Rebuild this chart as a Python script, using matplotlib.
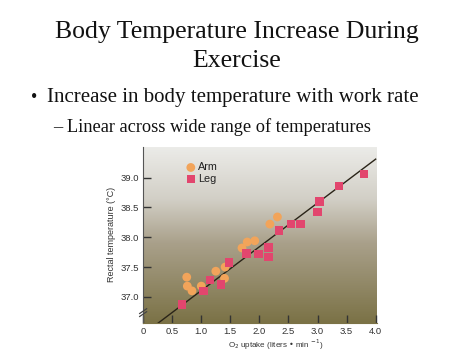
import numpy as np
import matplotlib.pyplot as plt
from matplotlib.colors import LinearSegmentedColormap

# O2 uptake (L/min) vs rectal temperature (C)
arm_x = [0.75, 0.76, 0.84, 1.00, 1.25, 1.41, 1.40, 1.70, 1.79, 1.92, 2.18, 2.31]
arm_y = [37.33, 37.18, 37.10, 37.18, 37.43, 37.50, 37.31, 37.82, 37.92, 37.94, 38.22, 38.34]
leg_x = [0.67, 1.04, 1.15, 1.34, 1.48, 1.78, 1.98, 2.16, 2.16, 2.34, 2.54, 2.71, 3.00, 3.03, 3.37, 3.80]
leg_y = [36.87, 37.10, 37.28, 37.21, 37.58, 37.73, 37.72, 37.83, 37.67, 38.11, 38.22, 38.22, 38.42, 38.60, 38.86, 39.06]
fit_slope = 0.735
fit_intercept = 36.37
fit_range = [0.23, 4.0]
x_ticks = [0, 0.5, 1.0, 1.5, 2.0, 2.5, 3.0, 3.5, 4.0]
x_ticklabels = ['0', '0.5', '1.0', '1.5', '2.0', '2.5', '3.0', '3.5', '4.0']
y_ticks = [37.0, 37.5, 38.0, 38.5, 39.0]

arm_color = '#f2a45a'
leg_color = '#e2466e'

fig = plt.figure(figsize=(4.74, 3.55), dpi=100)
fig.patch.set_facecolor('white')

serif = ['Liberation Serif', 'DejaVu Serif']
sans = ['Liberation Sans', 'DejaVu Sans']
fig.text(0.5, 0.910, 'Body Temperature Increase During', ha='center', va='center',
         fontsize=18.5, family=serif, color='#111111')
fig.text(0.5, 0.828, 'Exercise', ha='center', va='center',
         fontsize=18.5, family=serif, color='#111111')
fig.text(0.066, 0.724, '\u2022', ha='left', va='center', fontsize=13, family=serif, color='#111111')
fig.text(0.099, 0.724, 'Increase in body temperature with work rate', ha='left', va='center',
         fontsize=15, family=serif, color='#111111')
fig.text(0.112, 0.642, '\u2013 Linear across wide range of temperatures', ha='left', va='center',
         fontsize=13.2, family=serif, color='#111111')

ax = fig.add_axes([0.302, 0.090, 0.493, 0.497])
xlim = (0, 4.02)
ylim = (36.56, 39.52)

# gradient background, light at top and olive at the bottom
cmap = LinearSegmentedColormap.from_list('bg', [(0, '#ecece9'), (0.3, '#d2cfc6'),
                                                (0.55, '#a9a08a'), (1.0, '#7b7246')])
grad = np.linspace(0, 1, 256).reshape(-1, 1)
ax.imshow(grad, extent=[xlim[0], xlim[1], ylim[0], ylim[1]], aspect='auto', cmap=cmap,
          origin='upper', zorder=0)

fx = np.array(fit_range)
ax.plot(fx, fit_intercept + fit_slope * fx, color='#2a2418', lw=1.0, zorder=2)
ax.scatter(arm_x, arm_y, s=40, marker='o', color=arm_color, edgecolors='none', zorder=3)
ax.scatter(leg_x, leg_y, s=38, marker='s', color=leg_color, edgecolors='none', zorder=4)

# legend drawn as in the textbook figure
ax.scatter([0.82], [39.17], s=40, marker='o', color=arm_color, edgecolors='none', zorder=3)
ax.scatter([0.82], [38.98], s=38, marker='s', color=leg_color, edgecolors='none', zorder=3)
ax.text(0.94, 39.17, 'Arm', va='center', ha='left', fontsize=7.8, family=sans, color='#222222')
ax.text(0.94, 38.98, 'Leg', va='center', ha='left', fontsize=7.8, family=sans, color='#222222')

ax.set_xlim(xlim)
ax.set_ylim(ylim)
ax.set_xticks(x_ticks)
ax.set_xticklabels(x_ticklabels)
ax.set_yticks(y_ticks)
ax.tick_params(direction='in', length=6, width=1, colors='#333333', labelsize=6.8,
               labelcolor='#333333', pad=3)
for lab in ax.get_xticklabels() + ax.get_yticklabels():
    lab.set_family(sans)
for s in ['top', 'right']:
    ax.spines[s].set_visible(False)
ax.spines['left'].set_color('#555555')
ax.spines['bottom'].set_color('#7b7246')

# axis break mark
for dy in [0.0, 0.05]:
    ax.plot([-0.06, 0.06], [36.72 + dy - 0.05, 36.72 + dy + 0.03], color='#444444', lw=0.9,
            clip_on=False, zorder=5)

ax.set_xlabel('O$_2$ uptake (liters \u2022 min $^{-1}$)', fontsize=5.8, family=sans,
              color='#333333', labelpad=1)
ax.xaxis.set_label_coords(0.566, -0.085)
ax.set_ylabel('Rectal temperature (\u00b0C)', fontsize=6.5, family=sans, color='#333333',
              labelpad=3)

fig.savefig('out.png', dpi=100)
